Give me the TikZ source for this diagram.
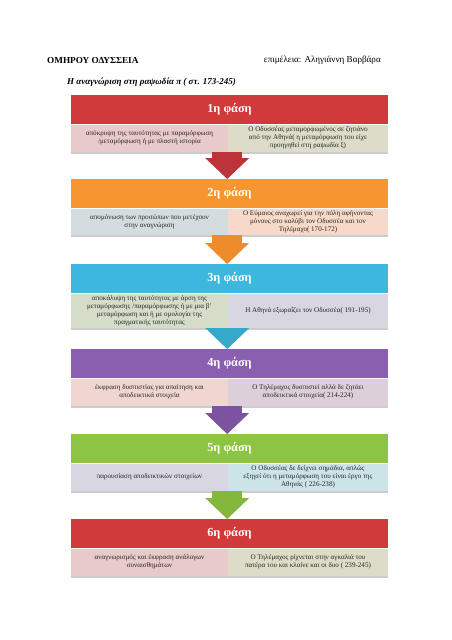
\documentclass[tikz,border=0pt]{standalone}
\usepackage{fontspec}
\setmainfont{Liberation Serif}
\usetikzlibrary{positioning,shadows,arrows.meta}

\definecolor{redbar}{HTML}{D03A3B}
\definecolor{redarrow}{HTML}{BC3439}
\definecolor{orangebar}{HTML}{F7962F}
\definecolor{orangearrow}{HTML}{EE8B2B}
\definecolor{cyanbar}{HTML}{3DB7DE}
\definecolor{cyanarrow}{HTML}{36A8C9}
\definecolor{purplebar}{HTML}{8A5FAF}
\definecolor{purplearrow}{HTML}{7B539F}
\definecolor{greenbar}{HTML}{8DC443}
\definecolor{greenarrow}{HTML}{84B83D}
\definecolor{pinkcell}{HTML}{E8CACB}
\definecolor{olivecell}{HTML}{DCDCC8}
\definecolor{bluecell}{HTML}{D3DDE0}
\definecolor{peachcell}{HTML}{F7D9C9}
\definecolor{sagecell}{HTML}{D5DDC9}
\definecolor{lavcell}{HTML}{D8D6E1}
\definecolor{rosecell}{HTML}{F0D6D0}
\definecolor{mauvecell}{HTML}{DCCFD9}
\definecolor{icecell}{HTML}{CCE3E8}

\tikzset{
  phase/.style={fill=#1, text=white, font=\fontsize{12.3}{14}\bfseries,
    minimum width=317pt, minimum height=29pt, inner sep=0pt, anchor=north},
  cell/.style={fill=#1, align=center, inner sep=1pt, text=black!85,
    font=\fontsize{7.1}{8}\selectfont,
    drop shadow={shadow xshift=0pt, shadow yshift=-2pt, opacity=.4}},
  leftcell/.style={cell=#1, minimum width=157pt},
  rightcell/.style={cell=#1, minimum width=160pt},
  phasearrow/.style={draw=#1, line width=30pt,
    -{Triangle[width=44pt, length=21pt, line width=0pt]}},
}

\begin{document}
\begin{tikzpicture}[x=1pt, y=-1pt]
  \useasboundingbox (0,0) rectangle (452,640);

  % header
  \node[anchor=west, inner sep=0pt, font=\fontsize{9.2}{11}\bfseries] (work) at (47,60) {ΟΜΗΡΟΥ ΟΔΥΣΣΕΙΑ};
  \node[anchor=east, inner sep=0pt, font=\fontsize{9.1}{11}\selectfont] (editor) at (381,60) {επιμέλεια: Αληγιάννη Βαρβάρα};
  \node[anchor=west, inner sep=0pt, font=\fontsize{9}{11}\bfseries\itshape] (subject) at (67,82) {Η αναγνώριση στη ραψωδία π ( στ. 173-245)};

  % 1
  \node[phase=redbar] (p1) at (229.5,95) {1η φάση};
  \node[leftcell=pinkcell, minimum height=27pt, below right=0pt of p1.south west] (l1)
    {απόκρυψη της ταυτότητας με παραμόρφωση\\/μεταμόρφωση ή με πλαστή ιστορία};
  \node[rightcell=olivecell, minimum height=27pt, below left=0pt of p1.south east] (r1)
    {Ο Οδυσσέας μεταμορφωμένος σε ζητιάνο\\από την Αθηνά( η μεταμόρφωση του είχε\\προηγηθεί στη ραψωδία ξ)};

  % 2
  \node[phase=orangebar] (p2) at (229.5,179) {2η φάση};
  \node[leftcell=bluecell, minimum height=26pt, below right=0pt of p2.south west] (l2)
    {απομόνωση των προσώπων που μετέχουν\\στην αναγνώριση};
  \node[rightcell=peachcell, minimum height=26pt, below left=0pt of p2.south east] (r2)
    {Ο Εύμαιος αναχωρεί για την πόλη αφήνοντας\\μόνους στο καλύβι τον Οδυσσέα και τον\\Τηλέμαχο( 170-172)};

  % 3
  \node[phase=cyanbar] (p3) at (229.5,264) {3η φάση};
  \node[leftcell=sagecell, minimum height=34pt, below right=0pt of p3.south west] (l3)
    {αποκάλυψη της ταυτότητας με άρση της\\μεταμόρφωσης /παραμόρφωσης ή με μια β'\\μεταμόρφωση και ή με ομολογία της\\πραγματικής ταυτότητας};
  \node[rightcell=lavcell, minimum height=34pt, below left=0pt of p3.south east] (r3)
    {Η Αθηνά εξωραΐζει τον Οδυσσέα( 191-195)};

  % 4
  \node[phase=purplebar] (p4) at (229.5,349) {4η φάση};
  \node[leftcell=rosecell, minimum height=27pt, below right=0pt of p4.south west] (l4)
    {έκφραση δυσπιστίας για απαίτηση και\\αποδεικτικά στοιχεία};
  \node[rightcell=mauvecell, minimum height=27pt, below left=0pt of p4.south east] (r4)
    {Ο Τηλέμαχος δυσπιστεί αλλά δε ζητάει\\αποδεικτικά στοιχεία( 214-224)};

  % 5
  \node[phase=greenbar] (p5) at (229.5,434) {5η φάση};
  \node[leftcell=lavcell, minimum height=27pt, below right=0pt of p5.south west] (l5)
    {παρουσίαση αποδεικτικών στοιχείων};
  \node[rightcell=icecell, minimum height=27pt, below left=0pt of p5.south east] (r5)
    {Ο Οδυσσέας δε δείχνει σημάδια, απλώς\\εξηγεί ότι η μεταμόρφωση του είναι έργο της\\Αθηνάς ( 226-238)};

  % 6
  \node[phase=redbar] (p6) at (229.5,519) {6η φάση};
  \node[leftcell=pinkcell, minimum height=27pt, below right=0pt of p6.south west] (l6)
    {αναγνωρισμός και έκφραση ανάλογων\\συναισθημάτων};
  \node[rightcell=olivecell, minimum height=27pt, below left=0pt of p6.south east] (r6)
    {Ο Τηλέμαχος ρίχνεται στην αγκαλιά του\\πατέρα του και κλαίνε και οι δυο ( 239-245)};

  % arrows
  \draw[phasearrow=redarrow]    ([xshift=-1pt]l1.south east) -- ([xshift=-1pt]l1.south east |- p2.north);
  \draw[phasearrow=orangearrow] ([xshift=-1pt]l2.south east) -- ([xshift=-1pt]l2.south east |- p3.north);
  \draw[phasearrow=cyanarrow]   ([xshift=-1pt]l3.south east) -- ([xshift=-1pt]l3.south east |- p4.north);
  \draw[phasearrow=purplearrow] ([xshift=-1pt]l4.south east) -- ([xshift=-1pt]l4.south east |- p5.north);
  \draw[phasearrow=greenarrow]  ([xshift=-1pt]l5.south east) -- ([xshift=-1pt]l5.south east |- p6.north);
\end{tikzpicture}
\end{document}
